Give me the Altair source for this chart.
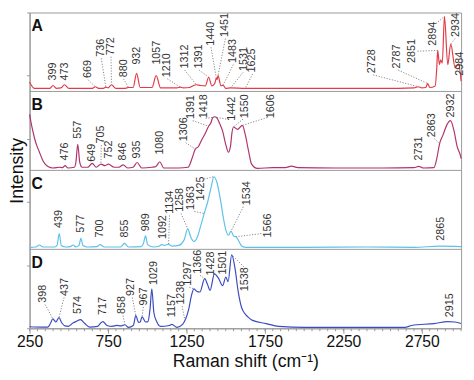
import altair as alt
import pandas as pd

PANELS = ["A", "B", "C", "D"]
OFFSET = {"A": 3, "B": 2, "C": 1, "D": 0}
COLORS = ["#e33c46", "#b0336b", "#5cc2ea", "#3b4bc2"]
MAJOR_TICKS = [250, 750, 1250, 1750, 2250, 2750]
MINOR_TICKS = list(range(250, 3001, 50))

# spectra: (Raman shift, intensity within panel 0..1)
A_pts = [(250, 0.12), (280, 0.04), (380, 0.04), (399, 0.075), (420, 0.04), (450, 0.045), (473, 0.085),
         (500, 0.04), (650, 0.04), (669, 0.06), (690, 0.04), (720, 0.04), (736, 0.055), (750, 0.045),
         (772, 0.085), (800, 0.04), (860, 0.04), (880, 0.05), (910, 0.05), (932, 0.23), (955, 0.05),
         (1030, 0.05), (1057, 0.2), (1085, 0.045), (1190, 0.045), (1210, 0.055), (1230, 0.045),
         (1270, 0.05), (1290, 0.07), (1312, 0.085), (1340, 0.075), (1370, 0.07), (1391, 0.18),
         (1412, 0.07), (1430, 0.1), (1440, 0.17), (1445, 0.15), (1451, 0.2), (1470, 0.07), (1483, 0.08),
         (1500, 0.04), (1531, 0.045), (1625, 0.04), (2600, 0.04), (2700, 0.045), (2728, 0.06),
         (2750, 0.045), (2775, 0.05), (2787, 0.1), (2800, 0.05), (2835, 0.07), (2845, 0.3), (2851, 0.52),
         (2862, 0.34), (2870, 0.4), (2880, 0.36), (2894, 0.95), (2915, 0.34), (2934, 0.6), (2962, 0.3),
         (2984, 0.35), (3000, 0.13)]

B_pts = [(250, 0.71), (265, 0.55), (280, 0.42), (295, 0.32), (311, 0.24), (336, 0.12), (367, 0.05),
         (400, 0.03), (440, 0.04), (460, 0.035), (476, 0.06), (495, 0.03), (535, 0.04), (545, 0.1),
         (557, 0.33), (570, 0.1), (585, 0.04), (620, 0.04), (649, 0.09), (675, 0.04), (705, 0.08),
         (730, 0.06), (752, 0.08), (790, 0.04), (820, 0.04), (846, 0.07), (875, 0.03), (910, 0.04),
         (935, 0.1), (965, 0.03), (1030, 0.04), (1055, 0.05), (1080, 0.11), (1105, 0.03), (1200, 0.03),
         (1260, 0.04), (1285, 0.15), (1306, 0.27), (1325, 0.3), (1345, 0.38), (1370, 0.47), (1391, 0.56),
         (1405, 0.6), (1418, 0.67), (1430, 0.68), (1442, 0.67), (1460, 0.6), (1480, 0.5), (1500, 0.33),
         (1517, 0.23), (1530, 0.3), (1540, 0.48), (1550, 0.55), (1575, 0.52), (1606, 0.57), (1625, 0.45),
         (1645, 0.25), (1665, 0.08), (1702, 0.025), (1800, 0.035), (1880, 0.035), (1919, 0.055),
         (1960, 0.035), (2200, 0.03), (2500, 0.03), (2700, 0.035), (2731, 0.05), (2760, 0.03),
         (2827, 0.035), (2845, 0.15), (2863, 0.34), (2885, 0.45), (2910, 0.58), (2932, 0.63),
         (2955, 0.5), (2975, 0.3), (2994, 0.2), (3000, 0.15)]

C_pts = [(250, 0.025), (290, 0.03), (312, 0.055), (335, 0.03), (410, 0.03), (425, 0.05), (439, 0.2),
         (452, 0.05), (480, 0.03), (510, 0.035), (528, 0.055), (545, 0.03), (565, 0.05), (577, 0.14),
         (590, 0.05), (620, 0.03), (680, 0.035), (700, 0.06), (725, 0.03), (830, 0.03), (855, 0.075),
         (880, 0.03), (960, 0.035), (975, 0.07), (989, 0.17), (1003, 0.06), (1040, 0.03), (1075, 0.04),
         (1092, 0.06), (1110, 0.05), (1134, 0.065), (1160, 0.04), (1200, 0.05), (1235, 0.12),
         (1258, 0.26), (1278, 0.15), (1298, 0.1), (1320, 0.16), (1345, 0.33), (1363, 0.455),
         (1385, 0.6), (1406, 0.78), (1425, 0.92), (1445, 0.84), (1467, 0.62), (1485, 0.4), (1500, 0.25),
         (1517, 0.18), (1534, 0.23), (1550, 0.17), (1566, 0.16), (1585, 0.1), (1600, 0.045),
         (1625, 0.025), (2000, 0.025), (2400, 0.03), (2700, 0.025), (2865, 0.04), (3000, 0.035)]

D_pts = [(250, 0.02), (330, 0.015), (367, 0.015), (385, 0.07), (398, 0.12), (418, 0.08), (437, 0.135),
         (455, 0.07), (475, 0.03), (497, 0.024), (528, 0.07), (550, 0.09), (574, 0.11), (602, 0.06),
         (633, 0.015), (683, 0.024), (700, 0.06), (717, 0.085), (744, 0.036), (775, 0.024), (806, 0.036),
         (830, 0.03), (858, 0.045), (880, 0.012), (911, 0.036), (927, 0.16), (945, 0.075), (955, 0.08),
         (967, 0.145), (990, 0.08), (1004, 0.085), (1018, 0.25), (1029, 0.5), (1042, 0.2), (1060, 0.085),
         (1084, 0.024), (1140, 0.036), (1157, 0.05), (1189, 0.012), (1225, 0.05), (1245, 0.12),
         (1265, 0.25), (1280, 0.4), (1297, 0.5), (1315, 0.47), (1335, 0.46), (1366, 0.63), (1385, 0.55),
         (1400, 0.48), (1428, 0.69), (1455, 0.63), (1480, 0.54), (1501, 0.65), (1515, 0.59), (1538, 0.93),
         (1560, 0.75), (1579, 0.47), (1600, 0.27), (1620, 0.19), (1641, 0.145), (1671, 0.1), (1758, 0.06),
         (1838, 0.024), (2005, 0.012), (2642, 0.012), (2685, 0.036), (2827, 0.06), (2915, 0.084),
         (2960, 0.08), (3000, 0.06)]

# annotations: (text, text x, text bottom, leader (x1, y1, x2, y2) or None)
A_ann = [("399", 399, 0.14, None), ("473", 473, 0.14, None),
         ("669", 621, 0.17, (621, 0.15, 669, 0.06)), ("736", 707, 0.44, (707, 0.42, 736, 0.055)),
         ("772", 769, 0.46, (769, 0.44, 772, 0.085)), ("880", 849, 0.18, (849, 0.16, 880, 0.05)),
         ("932", 935, 0.34, None), ("1057", 1060, 0.34, None),
         ("1210", 1128, 0.18, (1128, 0.16, 1210, 0.055)), ("1312", 1239, 0.29, (1239, 0.27, 1312, 0.085)),
         ("1391", 1331, 0.29, (1331, 0.27, 1391, 0.18)), ("1440", 1406, 0.58, (1406, 0.56, 1440, 0.17)),
         ("1451", 1498, 0.69, (1498, 0.67, 1451, 0.2)), ("1483", 1548, 0.36, (1548, 0.34, 1483, 0.08)),
         ("1531", 1616, 0.26, (1610, 0.24, 1531, 0.045)), ("1625", 1671, 0.24, (1671, 0.22, 1625, 0.04)),
         ("2728", 2432, 0.23, (2440, 0.21, 2728, 0.06)), ("2787", 2592, 0.29, (2600, 0.27, 2787, 0.1)),
         ("2851", 2685, 0.36, (2722, 0.51, 2851, 0.52)), ("2894", 2821, 0.58, (2840, 0.86, 2894, 0.95)),
         ("2934", 2969, 0.69, (2962, 0.67, 2934, 0.6)), ("2984", 2994, 0.2, None)]

B_ann = [("476", 476, 0.125, None), ("557", 557, 0.4, None), ("649", 649, 0.11, None),
         ("705", 707, 0.34, (707, 0.32, 705, 0.08)), ("752", 757, 0.15, None), ("846", 846, 0.125, None),
         ("935", 937, 0.15, None), ("1080", 1082, 0.2, None),
         ("1306", 1233, 0.37, (1245, 0.35, 1306, 0.27)), ("1391", 1276, 0.65, (1290, 0.63, 1391, 0.56)),
         ("1418", 1362, 0.66, (1372, 0.66, 1418, 0.67)), ("1442", 1542, 0.63, (1520, 0.645, 1442, 0.67)),
         ("1550", 1622, 0.66, (1610, 0.65, 1550, 0.55)), ("1606", 1789, 0.66, (1765, 0.67, 1606, 0.57)),
         ("2731", 2731, 0.125, None), ("2863", 2815, 0.42, (2830, 0.4, 2863, 0.34)),
         ("2932", 2935, 0.67, None)]

C_ann = [("439", 441, 0.27, None), ("577", 579, 0.21, None), ("700", 702, 0.15, None),
         ("855", 857, 0.15, None), ("989", 992, 0.23, None), ("1092", 1100, 0.13, None),
         ("1134", 1146, 0.45, (1142, 0.43, 1136, 0.065)), ("1258", 1208, 0.475, (1215, 0.455, 1258, 0.26)),
         ("1363", 1282, 0.5, (1300, 0.48, 1363, 0.455)), ("1425", 1344, 0.62, (1362, 0.89, 1425, 0.92)),
         ("1534", 1634, 0.56, (1612, 0.54, 1534, 0.23)), ("1566", 1770, 0.15, (1727, 0.2, 1566, 0.16)),
         ("2865", 2870, 0.11, None)]

D_ann = [("398", 337, 0.325, (350, 0.3, 398, 0.12)), ("437", 479, 0.41, (470, 0.39, 437, 0.135)),
         ("574", 559, 0.18, None), ("717", 720, 0.17, None),
         ("858", 837, 0.18, (845, 0.16, 858, 0.045)), ("927", 899, 0.41, (905, 0.39, 927, 0.16)),
         ("967", 979, 0.29, (975, 0.27, 967, 0.145)), ("1029", 1041, 0.55, None),
         ("1157", 1158, 0.14, None), ("1238", 1214, 0.3, (1222, 0.28, 1238, 0.12)),
         ("1297", 1257, 0.54, (1268, 0.52, 1297, 0.5)), ("1366", 1325, 0.69, (1336, 0.67, 1366, 0.63)),
         ("1428", 1406, 0.67, None), ("1501", 1486, 0.68, None),
         ("1538", 1622, 0.47, (1615, 0.78, 1538, 0.93)), ("2915", 2932, 0.14, None)]

SPECTRA = {"A": A_pts, "B": B_pts, "C": C_pts, "D": D_pts}
ANNS = {"A": A_ann, "B": B_ann, "C": C_ann, "D": D_ann}

spec_rows, text_rows, lead_rows, letter_rows = [], [], [], []
for p in PANELS:
    off = OFFSET[p]
    for i, (x, y) in enumerate(SPECTRA[p]):
        spec_rows.append({"panel": p, "x": x, "y": off + y, "o": i})
    for lab, tx, ty, lead in ANNS[p]:
        text_rows.append({"label": lab, "x": tx, "y": off + ty})
        if lead is not None:
            x1, y1, x2, y2 = lead
            lead_rows.append({"x": x1, "y": off + y1, "x2": x2, "y2": off + y2})
    letter_rows.append({"panel": p, "x": 262, "y": off + 0.83})

spec_df = pd.DataFrame(spec_rows)
text_df = pd.DataFrame(text_rows)
lead_df = pd.DataFrame(lead_rows)
letter_df = pd.DataFrame(letter_rows)
sep_df = pd.DataFrame({"y": [1, 2, 3]})
minor_df = pd.DataFrame({"x": MINOR_TICKS})

W, H = 440, 322
FONT = "Liberation Sans, Arial, sans-serif"
xs = alt.Scale(domain=[250, 3000], nice=False, zero=False)
ys = alt.Scale(domain=[0, 4], nice=False, zero=False)

x_axis = alt.Axis(values=MAJOR_TICKS, format="d", labelOverlap=False, labelFlush=False, labelBound=False,
                  title="Raman shift (cm⁻¹)", titleFontSize=18, titleFontWeight="normal",
                  labelFontSize=16, tickSize=5, labelPadding=1, titlePadding=3, grid=False,
                  domainColor="#999", tickColor="#999", labelColor="#111", titleColor="#111")
y_axis = alt.Axis(values=[round(i * 0.2, 2) for i in range(21)], labels=False, tickSize=3,
                  title="Intensity", titleFontSize=18, titleFontWeight="normal", titleColor="#111",
                  titlePadding=0, grid=False, domainColor="#999", tickColor="#999")

lines = alt.Chart(spec_df).mark_line(strokeWidth=1.2, interpolate="monotone").encode(
    x=alt.X("x:Q", scale=xs, axis=x_axis),
    y=alt.Y("y:Q", scale=ys, axis=y_axis),
    color=alt.Color("panel:N", scale=alt.Scale(domain=PANELS, range=COLORS), legend=None),
    order="o:Q",
)

minor = alt.Chart(minor_df).mark_rule(color="#999", strokeWidth=1).encode(
    x=alt.X("x:Q", scale=xs), y=alt.value(H), y2=alt.value(H + 3))

seps = alt.Chart(sep_df).mark_rule(color="#999", strokeWidth=1).encode(y=alt.Y("y:Q", scale=ys))

leaders = alt.Chart(lead_df).mark_rule(color="#777", strokeWidth=0.9, strokeDash=[1.2, 1.6]).encode(
    x=alt.X("x:Q", scale=xs), y=alt.Y("y:Q", scale=ys), x2="x2:Q", y2="y2:Q")

texts = alt.Chart(text_df).mark_text(angle=270, align="left", baseline="middle", fontSize=11,
                                      color="#333", font=FONT).encode(
    x=alt.X("x:Q", scale=xs), y=alt.Y("y:Q", scale=ys), text="label:N")

letters = alt.Chart(letter_df).mark_text(align="left", baseline="middle", fontSize=16,
                                         fontWeight="bold", color="#111", font=FONT).encode(
    x=alt.X("x:Q", scale=xs), y=alt.Y("y:Q", scale=ys), text="panel:N")

chart = alt.layer(seps, minor, lines, leaders, texts, letters).properties(
    width=W, height=H, padding=0
).configure(font=FONT).configure_view(stroke="#999", strokeWidth=1)

chart.save("out.html", embed_options={"renderer": "svg", "actions": False})
